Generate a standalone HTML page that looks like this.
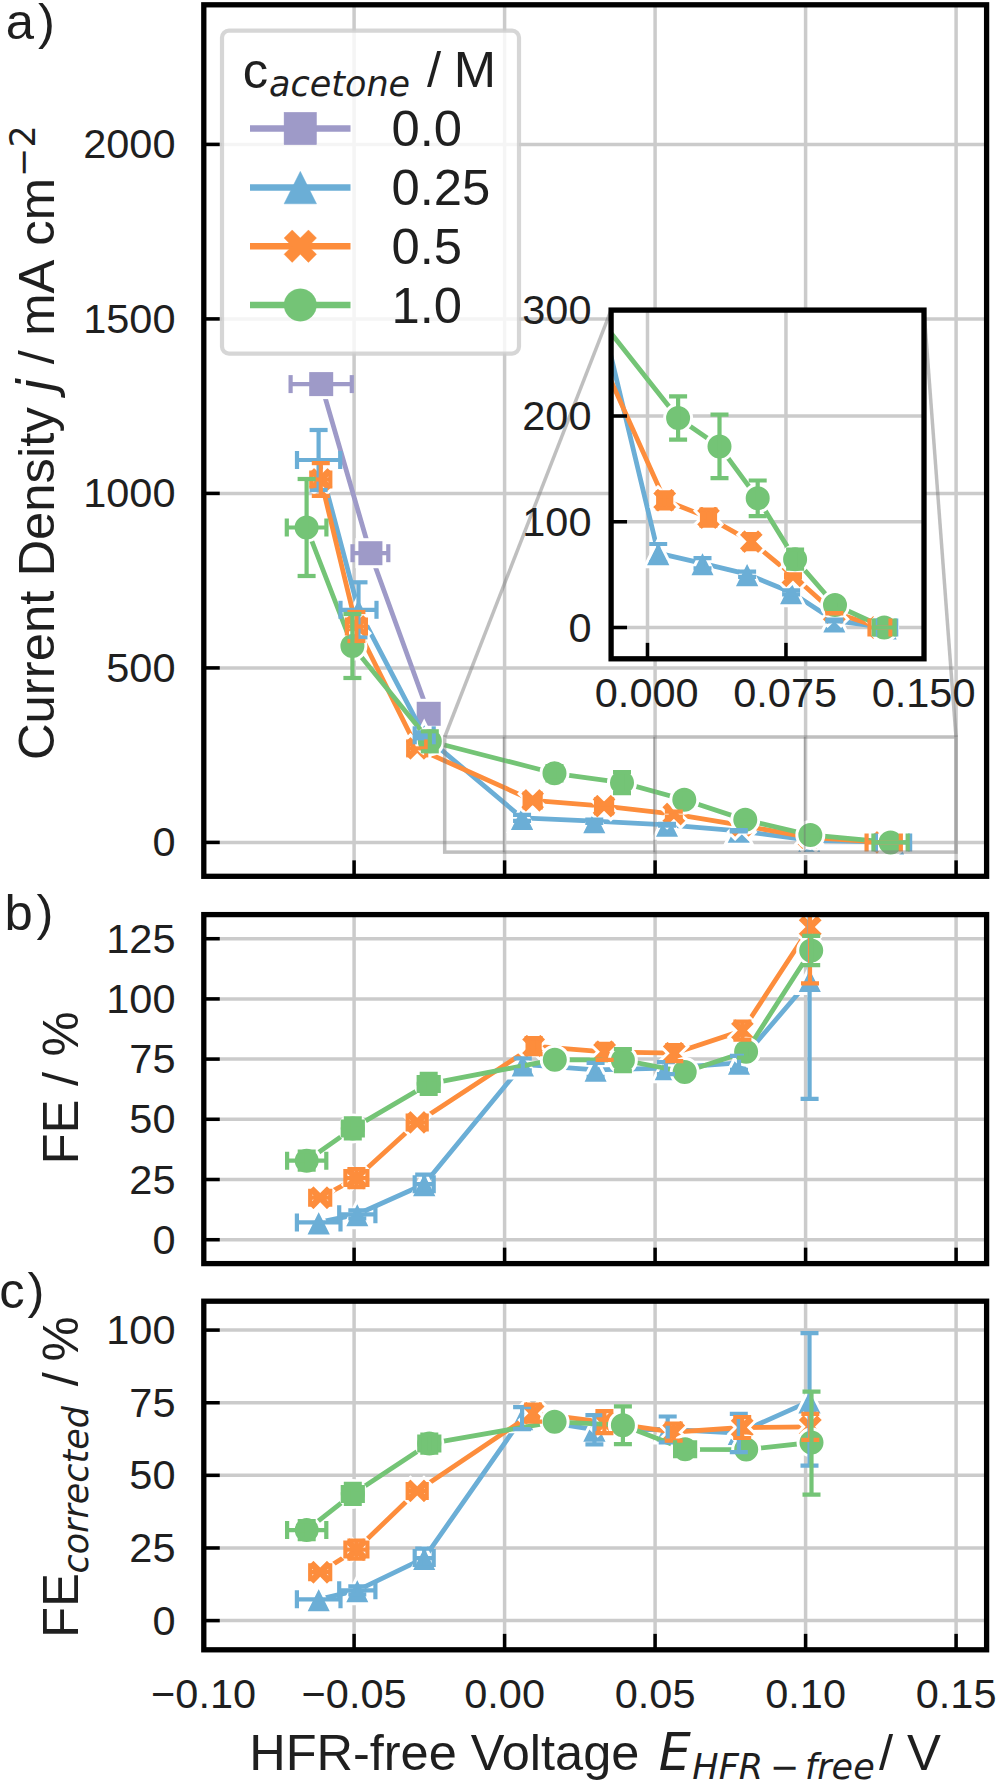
<!DOCTYPE html>
<html lang="en"><head><meta charset="utf-8"><title>Figure</title>
<style>
html,body{margin:0;padding:0;background:#fff}
body{width:996px;height:1783px;overflow:hidden}
svg{display:block}
.ls{font-family:"Liberation Sans",Arial,Helvetica,sans-serif;fill:#1f1f1f}
.dj{font-family:"DejaVu Sans","Liberation Sans",sans-serif}
</style></head><body>
<svg width="996" height="1783" viewBox="0 0 996 1783">
<defs>
<clipPath id="ca"><rect x="203.8" y="4.8" width="782.8" height="871.5"/></clipPath>
<clipPath id="cb"><rect x="203.8" y="914.6" width="782.8" height="349"/></clipPath>
<clipPath id="cc"><rect x="203.8" y="1301.2" width="782.8" height="348.6"/></clipPath>
<clipPath id="ci"><rect x="611.1" y="310.1" width="312.9" height="348.7"/></clipPath>
</defs>
<rect width="996" height="1783" fill="#fff"/>
<line x1="354.1" y1="4.8" x2="354.1" y2="876.3" stroke="#cbcbcb" stroke-width="3.5" />
<line x1="504.6" y1="4.8" x2="504.6" y2="876.3" stroke="#cbcbcb" stroke-width="3.5" />
<line x1="655.1" y1="4.8" x2="655.1" y2="876.3" stroke="#cbcbcb" stroke-width="3.5" />
<line x1="805.6" y1="4.8" x2="805.6" y2="876.3" stroke="#cbcbcb" stroke-width="3.5" />
<line x1="956.1" y1="4.8" x2="956.1" y2="876.3" stroke="#cbcbcb" stroke-width="3.5" />
<line x1="203.8" y1="842.4" x2="986.6" y2="842.4" stroke="#cbcbcb" stroke-width="3.5" />
<line x1="203.8" y1="667.9" x2="986.6" y2="667.9" stroke="#cbcbcb" stroke-width="3.5" />
<line x1="203.8" y1="493.4" x2="986.6" y2="493.4" stroke="#cbcbcb" stroke-width="3.5" />
<line x1="203.8" y1="318.9" x2="986.6" y2="318.9" stroke="#cbcbcb" stroke-width="3.5" />
<line x1="203.8" y1="144.4" x2="986.6" y2="144.4" stroke="#cbcbcb" stroke-width="3.5" />
<g clip-path="url(#ca)">
<polyline points="321.2,384.1 370.4,553.2 428.7,713.8" fill="none" stroke="#9e9ac8" stroke-width="4.8" stroke-linejoin="round" />
<rect x="307.7" y="370.6" width="27" height="27" fill="#9e9ac8" stroke="#fff" stroke-width="3" stroke-linejoin="miter"/>
<rect x="356.9" y="539.7" width="27" height="27" fill="#9e9ac8" stroke="#fff" stroke-width="3" stroke-linejoin="miter"/>
<rect x="415.2" y="700.3" width="27" height="27" fill="#9e9ac8" stroke="#fff" stroke-width="3" stroke-linejoin="miter"/>
<polyline points="318.6,460 358.5,609.8 424.2,735.3 522.05,817.88 594.28,821.21 667,824.81 738.75,830.78 809.19,840.09 893,842.4" fill="none" stroke="#6baed6" stroke-width="4.8" stroke-linejoin="round" />
<path d="M358.5 596.3L372 623.3L345 623.3Z" fill="#6baed6" stroke="#fff" stroke-width="3" stroke-linejoin="miter"/>
<path d="M424.2 721.8L437.7 748.8L410.7 748.8Z" fill="#6baed6" stroke="#fff" stroke-width="3" stroke-linejoin="miter"/>
<path d="M522.05 804.38L535.55 831.38L508.55 831.38Z" fill="#6baed6" stroke="#fff" stroke-width="3" stroke-linejoin="miter"/>
<path d="M594.28 807.71L607.78 834.71L580.78 834.71Z" fill="#6baed6" stroke="#fff" stroke-width="3" stroke-linejoin="miter"/>
<path d="M667 811.31L680.5 838.31L653.5 838.31Z" fill="#6baed6" stroke="#fff" stroke-width="3" stroke-linejoin="miter"/>
<path d="M738.75 817.28L752.25 844.28L725.25 844.28Z" fill="#6baed6" stroke="#fff" stroke-width="3" stroke-linejoin="miter"/>
<path d="M809.19 826.59L822.69 853.59L795.69 853.59Z" fill="#6baed6" stroke="#fff" stroke-width="3" stroke-linejoin="miter"/>
<path d="M893 828.9L906.5 855.9L879.5 855.9Z" fill="#6baed6" stroke="#fff" stroke-width="3" stroke-linejoin="miter"/>
<polyline points="320.8,479.5 356.4,626.5 417.2,748.4 532.65,800.42 604.06,806.13 673.85,814.05 741.85,825.34 809.19,837.45 883.7,842.4" fill="none" stroke="#fd8d3c" stroke-width="4.8" stroke-linejoin="round" />
<path d="M314.05 466L320.8 472.75L327.55 466L334.3 472.75L327.55 479.5L334.3 486.25L327.55 493L320.8 486.25L314.05 493L307.3 486.25L314.05 479.5L307.3 472.75Z" fill="#fd8d3c" stroke="#fff" stroke-width="3" stroke-linejoin="miter"/>
<path d="M349.65 613L356.4 619.75L363.15 613L369.9 619.75L363.15 626.5L369.9 633.25L363.15 640L356.4 633.25L349.65 640L342.9 633.25L349.65 626.5L342.9 619.75Z" fill="#fd8d3c" stroke="#fff" stroke-width="3" stroke-linejoin="miter"/>
<path d="M410.45 734.9L417.2 741.65L423.95 734.9L430.7 741.65L423.95 748.4L430.7 755.15L423.95 761.9L417.2 755.15L410.45 761.9L403.7 755.15L410.45 748.4L403.7 741.65Z" fill="#fd8d3c" stroke="#fff" stroke-width="3" stroke-linejoin="miter"/>
<path d="M525.9 786.92L532.65 793.67L539.4 786.92L546.15 793.67L539.4 800.42L546.15 807.17L539.4 813.92L532.65 807.17L525.9 813.92L519.15 807.17L525.9 800.42L519.15 793.67Z" fill="#fd8d3c" stroke="#fff" stroke-width="3" stroke-linejoin="miter"/>
<path d="M597.31 792.63L604.06 799.38L610.81 792.63L617.56 799.38L610.81 806.13L617.56 812.88L610.81 819.63L604.06 812.88L597.31 819.63L590.56 812.88L597.31 806.13L590.56 799.38Z" fill="#fd8d3c" stroke="#fff" stroke-width="3" stroke-linejoin="miter"/>
<path d="M667.1 800.55L673.85 807.3L680.6 800.55L687.35 807.3L680.6 814.05L687.35 820.8L680.6 827.55L673.85 820.8L667.1 827.55L660.35 820.8L667.1 814.05L660.35 807.3Z" fill="#fd8d3c" stroke="#fff" stroke-width="3" stroke-linejoin="miter"/>
<path d="M735.1 811.84L741.85 818.59L748.6 811.84L755.35 818.59L748.6 825.34L755.35 832.09L748.6 838.84L741.85 832.09L735.1 838.84L728.35 832.09L735.1 825.34L728.35 818.59Z" fill="#fd8d3c" stroke="#fff" stroke-width="3" stroke-linejoin="miter"/>
<path d="M802.44 823.95L809.19 830.7L815.94 823.95L822.69 830.7L815.94 837.45L822.69 844.2L815.94 850.95L809.19 844.2L802.44 850.95L795.69 844.2L802.44 837.45L795.69 830.7Z" fill="#fd8d3c" stroke="#fff" stroke-width="3" stroke-linejoin="miter"/>
<path d="M876.95 828.9L883.7 835.65L890.45 828.9L897.2 835.65L890.45 842.4L897.2 849.15L890.45 855.9L883.7 849.15L876.95 855.9L870.2 849.15L876.95 842.4L870.2 835.65Z" fill="#fd8d3c" stroke="#fff" stroke-width="3" stroke-linejoin="miter"/>
<polyline points="306.6,527.5 352.4,646 429.8,741.3 554.49,773.26 622,782.63 684.29,799.76 745.27,819.86 810.33,834.97 890.55,842.4" fill="none" stroke="#74c476" stroke-width="4.8" stroke-linejoin="round" />
<circle cx="306.6" cy="527.5" r="13.5" fill="#74c476" stroke="#fff" stroke-width="3" stroke-linejoin="miter"/>
<circle cx="352.4" cy="646" r="13.5" fill="#74c476" stroke="#fff" stroke-width="3" stroke-linejoin="miter"/>
<circle cx="429.8" cy="741.3" r="13.5" fill="#74c476" stroke="#fff" stroke-width="3" stroke-linejoin="miter"/>
<circle cx="554.49" cy="773.26" r="13.5" fill="#74c476" stroke="#fff" stroke-width="3" stroke-linejoin="miter"/>
<circle cx="622" cy="782.63" r="13.5" fill="#74c476" stroke="#fff" stroke-width="3" stroke-linejoin="miter"/>
<circle cx="684.29" cy="799.76" r="13.5" fill="#74c476" stroke="#fff" stroke-width="3" stroke-linejoin="miter"/>
<circle cx="745.27" cy="819.86" r="13.5" fill="#74c476" stroke="#fff" stroke-width="3" stroke-linejoin="miter"/>
<circle cx="810.33" cy="834.97" r="13.5" fill="#74c476" stroke="#fff" stroke-width="3" stroke-linejoin="miter"/>
<circle cx="890.55" cy="842.4" r="13.5" fill="#74c476" stroke="#fff" stroke-width="3" stroke-linejoin="miter"/>
<line x1="290.6" y1="384.1" x2="351.8" y2="384.1" stroke="#9e9ac8" stroke-width="4.2" />
<line x1="290.6" y1="375.1" x2="290.6" y2="393.1" stroke="#9e9ac8" stroke-width="4.2" />
<line x1="351.8" y1="375.1" x2="351.8" y2="393.1" stroke="#9e9ac8" stroke-width="4.2" />
<line x1="352.5" y1="553.2" x2="388.3" y2="553.2" stroke="#9e9ac8" stroke-width="4.2" />
<line x1="352.5" y1="544.2" x2="352.5" y2="562.2" stroke="#9e9ac8" stroke-width="4.2" />
<line x1="388.3" y1="544.2" x2="388.3" y2="562.2" stroke="#9e9ac8" stroke-width="4.2" />
<line x1="297" y1="460" x2="340.2" y2="460" stroke="#6baed6" stroke-width="4.2" />
<line x1="297" y1="451" x2="297" y2="469" stroke="#6baed6" stroke-width="4.2" />
<line x1="340.2" y1="451" x2="340.2" y2="469" stroke="#6baed6" stroke-width="4.2" />
<line x1="318.6" y1="430" x2="318.6" y2="490" stroke="#6baed6" stroke-width="4.2" />
<line x1="309.6" y1="430" x2="327.6" y2="430" stroke="#6baed6" stroke-width="4.2" />
<line x1="309.6" y1="490" x2="327.6" y2="490" stroke="#6baed6" stroke-width="4.2" />
<line x1="340.5" y1="609.8" x2="376.5" y2="609.8" stroke="#6baed6" stroke-width="4.2" />
<line x1="340.5" y1="600.8" x2="340.5" y2="618.8" stroke="#6baed6" stroke-width="4.2" />
<line x1="376.5" y1="600.8" x2="376.5" y2="618.8" stroke="#6baed6" stroke-width="4.2" />
<line x1="358.5" y1="582.3" x2="358.5" y2="637.3" stroke="#6baed6" stroke-width="4.2" />
<line x1="349.5" y1="582.3" x2="367.5" y2="582.3" stroke="#6baed6" stroke-width="4.2" />
<line x1="349.5" y1="637.3" x2="367.5" y2="637.3" stroke="#6baed6" stroke-width="4.2" />
<line x1="414.7" y1="735.3" x2="433.7" y2="735.3" stroke="#6baed6" stroke-width="4.2" />
<line x1="414.7" y1="726.3" x2="414.7" y2="744.3" stroke="#6baed6" stroke-width="4.2" />
<line x1="433.7" y1="726.3" x2="433.7" y2="744.3" stroke="#6baed6" stroke-width="4.2" />
<line x1="424.2" y1="732.3" x2="424.2" y2="738.3" stroke="#6baed6" stroke-width="4.2" />
<line x1="415.2" y1="732.3" x2="433.2" y2="732.3" stroke="#6baed6" stroke-width="4.2" />
<line x1="415.2" y1="738.3" x2="433.2" y2="738.3" stroke="#6baed6" stroke-width="4.2" />
<line x1="522.05" y1="814.84" x2="522.05" y2="820.92" stroke="#6baed6" stroke-width="4.2" />
<line x1="513.05" y1="814.84" x2="531.05" y2="814.84" stroke="#6baed6" stroke-width="4.2" />
<line x1="513.05" y1="820.92" x2="531.05" y2="820.92" stroke="#6baed6" stroke-width="4.2" />
<line x1="594.28" y1="819.53" x2="594.28" y2="822.9" stroke="#6baed6" stroke-width="4.2" />
<line x1="585.28" y1="819.53" x2="603.28" y2="819.53" stroke="#6baed6" stroke-width="4.2" />
<line x1="585.28" y1="822.9" x2="603.28" y2="822.9" stroke="#6baed6" stroke-width="4.2" />
<line x1="667" y1="823.95" x2="667" y2="825.67" stroke="#6baed6" stroke-width="4.2" />
<line x1="658" y1="823.95" x2="676" y2="823.95" stroke="#6baed6" stroke-width="4.2" />
<line x1="658" y1="825.67" x2="676" y2="825.67" stroke="#6baed6" stroke-width="4.2" />
<line x1="738.75" y1="830.12" x2="738.75" y2="831.44" stroke="#6baed6" stroke-width="4.2" />
<line x1="729.75" y1="830.12" x2="747.75" y2="830.12" stroke="#6baed6" stroke-width="4.2" />
<line x1="729.75" y1="831.44" x2="747.75" y2="831.44" stroke="#6baed6" stroke-width="4.2" />
<line x1="875.88" y1="842.4" x2="910.12" y2="842.4" stroke="#6baed6" stroke-width="4.2" />
<line x1="875.88" y1="833.4" x2="875.88" y2="851.4" stroke="#6baed6" stroke-width="4.2" />
<line x1="910.12" y1="833.4" x2="910.12" y2="851.4" stroke="#6baed6" stroke-width="4.2" />
<line x1="311.3" y1="479.5" x2="330.3" y2="479.5" stroke="#fd8d3c" stroke-width="4.2" />
<line x1="311.3" y1="470.5" x2="311.3" y2="488.5" stroke="#fd8d3c" stroke-width="4.2" />
<line x1="330.3" y1="470.5" x2="330.3" y2="488.5" stroke="#fd8d3c" stroke-width="4.2" />
<line x1="320.8" y1="463.1" x2="320.8" y2="495.9" stroke="#fd8d3c" stroke-width="4.2" />
<line x1="311.8" y1="463.1" x2="329.8" y2="463.1" stroke="#fd8d3c" stroke-width="4.2" />
<line x1="311.8" y1="495.9" x2="329.8" y2="495.9" stroke="#fd8d3c" stroke-width="4.2" />
<line x1="346.9" y1="626.5" x2="365.9" y2="626.5" stroke="#fd8d3c" stroke-width="4.2" />
<line x1="346.9" y1="617.5" x2="346.9" y2="635.5" stroke="#fd8d3c" stroke-width="4.2" />
<line x1="365.9" y1="617.5" x2="365.9" y2="635.5" stroke="#fd8d3c" stroke-width="4.2" />
<line x1="356.4" y1="612" x2="356.4" y2="641" stroke="#fd8d3c" stroke-width="4.2" />
<line x1="347.4" y1="612" x2="365.4" y2="612" stroke="#fd8d3c" stroke-width="4.2" />
<line x1="347.4" y1="641" x2="365.4" y2="641" stroke="#fd8d3c" stroke-width="4.2" />
<line x1="408.2" y1="748.4" x2="426.2" y2="748.4" stroke="#fd8d3c" stroke-width="4.2" />
<line x1="408.2" y1="739.4" x2="408.2" y2="757.4" stroke="#fd8d3c" stroke-width="4.2" />
<line x1="426.2" y1="739.4" x2="426.2" y2="757.4" stroke="#fd8d3c" stroke-width="4.2" />
<line x1="524.65" y1="800.42" x2="540.65" y2="800.42" stroke="#fd8d3c" stroke-width="4.2" />
<line x1="524.65" y1="791.42" x2="524.65" y2="809.42" stroke="#fd8d3c" stroke-width="4.2" />
<line x1="540.65" y1="791.42" x2="540.65" y2="809.42" stroke="#fd8d3c" stroke-width="4.2" />
<line x1="532.65" y1="797.78" x2="532.65" y2="803.06" stroke="#fd8d3c" stroke-width="4.2" />
<line x1="523.65" y1="797.78" x2="541.65" y2="797.78" stroke="#fd8d3c" stroke-width="4.2" />
<line x1="523.65" y1="803.06" x2="541.65" y2="803.06" stroke="#fd8d3c" stroke-width="4.2" />
<line x1="596.06" y1="806.13" x2="612.06" y2="806.13" stroke="#fd8d3c" stroke-width="4.2" />
<line x1="596.06" y1="797.13" x2="596.06" y2="815.13" stroke="#fd8d3c" stroke-width="4.2" />
<line x1="612.06" y1="797.13" x2="612.06" y2="815.13" stroke="#fd8d3c" stroke-width="4.2" />
<line x1="604.06" y1="803.49" x2="604.06" y2="808.77" stroke="#fd8d3c" stroke-width="4.2" />
<line x1="595.06" y1="803.49" x2="613.06" y2="803.49" stroke="#fd8d3c" stroke-width="4.2" />
<line x1="595.06" y1="808.77" x2="613.06" y2="808.77" stroke="#fd8d3c" stroke-width="4.2" />
<line x1="673.85" y1="811.58" x2="673.85" y2="816.53" stroke="#fd8d3c" stroke-width="4.2" />
<line x1="664.85" y1="811.58" x2="682.85" y2="811.58" stroke="#fd8d3c" stroke-width="4.2" />
<line x1="664.85" y1="816.53" x2="682.85" y2="816.53" stroke="#fd8d3c" stroke-width="4.2" />
<line x1="866.58" y1="842.4" x2="900.82" y2="842.4" stroke="#fd8d3c" stroke-width="4.2" />
<line x1="866.58" y1="833.4" x2="866.58" y2="851.4" stroke="#fd8d3c" stroke-width="4.2" />
<line x1="900.82" y1="833.4" x2="900.82" y2="851.4" stroke="#fd8d3c" stroke-width="4.2" />
<line x1="286.8" y1="527.5" x2="326.4" y2="527.5" stroke="#74c476" stroke-width="4.2" />
<line x1="286.8" y1="518.5" x2="286.8" y2="536.5" stroke="#74c476" stroke-width="4.2" />
<line x1="326.4" y1="518.5" x2="326.4" y2="536.5" stroke="#74c476" stroke-width="4.2" />
<line x1="306.6" y1="479" x2="306.6" y2="576" stroke="#74c476" stroke-width="4.2" />
<line x1="297.6" y1="479" x2="315.6" y2="479" stroke="#74c476" stroke-width="4.2" />
<line x1="297.6" y1="576" x2="315.6" y2="576" stroke="#74c476" stroke-width="4.2" />
<line x1="352.4" y1="614" x2="352.4" y2="678" stroke="#74c476" stroke-width="4.2" />
<line x1="343.4" y1="614" x2="361.4" y2="614" stroke="#74c476" stroke-width="4.2" />
<line x1="343.4" y1="678" x2="361.4" y2="678" stroke="#74c476" stroke-width="4.2" />
<line x1="429.8" y1="731.3" x2="429.8" y2="751.3" stroke="#74c476" stroke-width="4.2" />
<line x1="420.8" y1="731.3" x2="438.8" y2="731.3" stroke="#74c476" stroke-width="4.2" />
<line x1="420.8" y1="751.3" x2="438.8" y2="751.3" stroke="#74c476" stroke-width="4.2" />
<line x1="554.49" y1="766.1" x2="554.49" y2="780.42" stroke="#74c476" stroke-width="4.2" />
<line x1="545.49" y1="766.1" x2="563.49" y2="766.1" stroke="#74c476" stroke-width="4.2" />
<line x1="545.49" y1="780.42" x2="563.49" y2="780.42" stroke="#74c476" stroke-width="4.2" />
<line x1="622" y1="772.14" x2="622" y2="793.13" stroke="#74c476" stroke-width="4.2" />
<line x1="613" y1="772.14" x2="631" y2="772.14" stroke="#74c476" stroke-width="4.2" />
<line x1="613" y1="793.13" x2="631" y2="793.13" stroke="#74c476" stroke-width="4.2" />
<line x1="684.29" y1="793.89" x2="684.29" y2="805.64" stroke="#74c476" stroke-width="4.2" />
<line x1="675.29" y1="793.89" x2="693.29" y2="793.89" stroke="#74c476" stroke-width="4.2" />
<line x1="675.29" y1="805.64" x2="693.29" y2="805.64" stroke="#74c476" stroke-width="4.2" />
<line x1="745.27" y1="816.72" x2="745.27" y2="822.99" stroke="#74c476" stroke-width="4.2" />
<line x1="736.27" y1="816.72" x2="754.27" y2="816.72" stroke="#74c476" stroke-width="4.2" />
<line x1="736.27" y1="822.99" x2="754.27" y2="822.99" stroke="#74c476" stroke-width="4.2" />
<line x1="810.33" y1="833.65" x2="810.33" y2="836.29" stroke="#74c476" stroke-width="4.2" />
<line x1="801.33" y1="833.65" x2="819.33" y2="833.65" stroke="#74c476" stroke-width="4.2" />
<line x1="801.33" y1="836.29" x2="819.33" y2="836.29" stroke="#74c476" stroke-width="4.2" />
<line x1="873.43" y1="842.4" x2="907.67" y2="842.4" stroke="#74c476" stroke-width="4.2" />
<line x1="873.43" y1="833.4" x2="873.43" y2="851.4" stroke="#74c476" stroke-width="4.2" />
<line x1="907.67" y1="833.4" x2="907.67" y2="851.4" stroke="#74c476" stroke-width="4.2" />
</g>
<rect x="444.7" y="737" width="511.3" height="115.1" fill="none" stroke="#808080" stroke-opacity="0.5" stroke-width="3.5"/>
<line x1="503.7" y1="737" x2="503.7" y2="852.1" stroke="#707070" stroke-width="1.8" stroke-opacity="0.45"/>
<line x1="654.2" y1="737" x2="654.2" y2="852.1" stroke="#707070" stroke-width="1.8" stroke-opacity="0.45"/>
<line x1="804.7" y1="737" x2="804.7" y2="852.1" stroke="#707070" stroke-width="1.8" stroke-opacity="0.45"/>
<line x1="444.7" y1="737" x2="611.1" y2="310.1" stroke="#808080" stroke-width="3.5" stroke-opacity="0.5"/>
<line x1="956" y1="737" x2="924" y2="310.1" stroke="#808080" stroke-width="3.5" stroke-opacity="0.5"/>
<line x1="354.1" y1="876.3" x2="354.1" y2="860.35" stroke="#000" stroke-width="3.5" />
<line x1="504.6" y1="876.3" x2="504.6" y2="860.35" stroke="#000" stroke-width="3.5" />
<line x1="655.1" y1="876.3" x2="655.1" y2="860.35" stroke="#000" stroke-width="3.5" />
<line x1="805.6" y1="876.3" x2="805.6" y2="860.35" stroke="#000" stroke-width="3.5" />
<line x1="956.1" y1="876.3" x2="956.1" y2="860.35" stroke="#000" stroke-width="3.5" />
<line x1="203.8" y1="842.4" x2="219.75" y2="842.4" stroke="#000" stroke-width="3.5" />
<line x1="203.8" y1="667.9" x2="219.75" y2="667.9" stroke="#000" stroke-width="3.5" />
<line x1="203.8" y1="493.4" x2="219.75" y2="493.4" stroke="#000" stroke-width="3.5" />
<line x1="203.8" y1="318.9" x2="219.75" y2="318.9" stroke="#000" stroke-width="3.5" />
<line x1="203.8" y1="144.4" x2="219.75" y2="144.4" stroke="#000" stroke-width="3.5" />
<rect x="203.8" y="4.8" width="782.8" height="871.5" fill="none" stroke="#000" stroke-width="5.3"/>
<rect x="222" y="30.6" width="297" height="323" rx="7" ry="7" fill="#fff" fill-opacity="0.8" stroke="#ccc" stroke-opacity="0.8" stroke-width="4.2"/>
<line x1="250" y1="128.5" x2="350.5" y2="128.5" stroke="#9e9ac8" stroke-width="6.5" />
<rect x="284.05" y="112.25" width="32.5" height="32.5" fill="#9e9ac8" stroke="#9e9ac8" stroke-width="0.4" stroke-linejoin="miter"/>
<text x="391.5" y="146.1" font-size="50.8" text-anchor="start" class="ls" >0.0</text>
<line x1="250" y1="187.6" x2="350.5" y2="187.6" stroke="#6baed6" stroke-width="6.5" />
<path d="M300.3 171.35L316.55 203.85L284.05 203.85Z" fill="#6baed6" stroke="#6baed6" stroke-width="0.4" stroke-linejoin="miter"/>
<text x="391.5" y="205.2" font-size="50.8" text-anchor="start" class="ls" >0.25</text>
<line x1="250" y1="246.2" x2="350.5" y2="246.2" stroke="#fd8d3c" stroke-width="6.5" />
<path d="M292.18 229.95L300.3 238.07L308.43 229.95L316.55 238.07L308.43 246.2L316.55 254.32L308.43 262.45L300.3 254.32L292.18 262.45L284.05 254.32L292.18 246.2L284.05 238.07Z" fill="#fd8d3c" stroke="#fd8d3c" stroke-width="0.4" stroke-linejoin="miter"/>
<text x="391.5" y="263.8" font-size="50.8" text-anchor="start" class="ls" >0.5</text>
<line x1="250" y1="305" x2="350.5" y2="305" stroke="#74c476" stroke-width="6.5" />
<circle cx="300.3" cy="305" r="16.25" fill="#74c476" stroke="#74c476" stroke-width="0.4" stroke-linejoin="miter"/>
<text x="391.5" y="322.6" font-size="50.8" text-anchor="start" class="ls" >1.0</text>
<rect x="611.1" y="310.1" width="312.9" height="348.7" fill="#fff"/>
<line x1="647.5" y1="310.1" x2="647.5" y2="658.8" stroke="#cbcbcb" stroke-width="3.5" />
<line x1="785.95" y1="310.1" x2="785.95" y2="658.8" stroke="#cbcbcb" stroke-width="3.5" />
<line x1="611.1" y1="627.5" x2="924" y2="627.5" stroke="#cbcbcb" stroke-width="3.5" />
<line x1="611.1" y1="521.75" x2="924" y2="521.75" stroke="#cbcbcb" stroke-width="3.5" />
<line x1="611.1" y1="416" x2="924" y2="416" stroke="#cbcbcb" stroke-width="3.5" />
<g clip-path="url(#ci)">
<polyline points="598.19,302.98 658.2,553.2 702.5,563.3 747.1,574.2 791.1,592.3 834.3,620.5 885.7,627.5" fill="none" stroke="#6baed6" stroke-width="4.8" stroke-linejoin="round" />
<path d="M658.2 539.7L671.7 566.7L644.7 566.7Z" fill="#6baed6" stroke="#fff" stroke-width="3" stroke-linejoin="miter"/>
<path d="M702.5 549.8L716 576.8L689 576.8Z" fill="#6baed6" stroke="#fff" stroke-width="3" stroke-linejoin="miter"/>
<path d="M747.1 560.7L760.6 587.7L733.6 587.7Z" fill="#6baed6" stroke="#fff" stroke-width="3" stroke-linejoin="miter"/>
<path d="M791.1 578.8L804.6 605.8L777.6 605.8Z" fill="#6baed6" stroke="#fff" stroke-width="3" stroke-linejoin="miter"/>
<path d="M834.3 607L847.8 634L820.8 634Z" fill="#6baed6" stroke="#fff" stroke-width="3" stroke-linejoin="miter"/>
<path d="M885.7 614L899.2 641L872.2 641Z" fill="#6baed6" stroke="#fff" stroke-width="3" stroke-linejoin="miter"/>
<polyline points="593.9,342.67 664.7,500.3 708.5,517.6 751.3,541.6 793,575.8 834.3,612.5 880,627.5" fill="none" stroke="#fd8d3c" stroke-width="4.8" stroke-linejoin="round" />
<path d="M657.95 486.8L664.7 493.55L671.45 486.8L678.2 493.55L671.45 500.3L678.2 507.05L671.45 513.8L664.7 507.05L657.95 513.8L651.2 507.05L657.95 500.3L651.2 493.55Z" fill="#fd8d3c" stroke="#fff" stroke-width="3" stroke-linejoin="miter"/>
<path d="M701.75 504.1L708.5 510.85L715.25 504.1L722 510.85L715.25 517.6L722 524.35L715.25 531.1L708.5 524.35L701.75 531.1L695 524.35L701.75 517.6L695 510.85Z" fill="#fd8d3c" stroke="#fff" stroke-width="3" stroke-linejoin="miter"/>
<path d="M744.55 528.1L751.3 534.85L758.05 528.1L764.8 534.85L758.05 541.6L764.8 548.35L758.05 555.1L751.3 548.35L744.55 555.1L737.8 548.35L744.55 541.6L737.8 534.85Z" fill="#fd8d3c" stroke="#fff" stroke-width="3" stroke-linejoin="miter"/>
<path d="M786.25 562.3L793 569.05L799.75 562.3L806.5 569.05L799.75 575.8L806.5 582.55L799.75 589.3L793 582.55L786.25 589.3L779.5 582.55L786.25 575.8L779.5 569.05Z" fill="#fd8d3c" stroke="#fff" stroke-width="3" stroke-linejoin="miter"/>
<path d="M827.55 599L834.3 605.75L841.05 599L847.8 605.75L841.05 612.5L847.8 619.25L841.05 626L834.3 619.25L827.55 626L820.8 619.25L827.55 612.5L820.8 605.75Z" fill="#fd8d3c" stroke="#fff" stroke-width="3" stroke-linejoin="miter"/>
<path d="M873.25 614L880 620.75L886.75 614L893.5 620.75L886.75 627.5L893.5 634.25L886.75 641L880 634.25L873.25 641L866.5 634.25L873.25 627.5L866.5 620.75Z" fill="#fd8d3c" stroke="#fff" stroke-width="3" stroke-linejoin="miter"/>
<polyline points="601.63,321.16 678.1,418 719.5,446.4 757.7,498.3 795.1,559.2 835,605 884.2,627.5" fill="none" stroke="#74c476" stroke-width="4.8" stroke-linejoin="round" />
<circle cx="678.1" cy="418" r="13.5" fill="#74c476" stroke="#fff" stroke-width="3" stroke-linejoin="miter"/>
<circle cx="719.5" cy="446.4" r="13.5" fill="#74c476" stroke="#fff" stroke-width="3" stroke-linejoin="miter"/>
<circle cx="757.7" cy="498.3" r="13.5" fill="#74c476" stroke="#fff" stroke-width="3" stroke-linejoin="miter"/>
<circle cx="795.1" cy="559.2" r="13.5" fill="#74c476" stroke="#fff" stroke-width="3" stroke-linejoin="miter"/>
<circle cx="835" cy="605" r="13.5" fill="#74c476" stroke="#fff" stroke-width="3" stroke-linejoin="miter"/>
<circle cx="884.2" cy="627.5" r="13.5" fill="#74c476" stroke="#fff" stroke-width="3" stroke-linejoin="miter"/>
<line x1="658.2" y1="544" x2="658.2" y2="562.4" stroke="#6baed6" stroke-width="4.2" />
<line x1="649.2" y1="544" x2="667.2" y2="544" stroke="#6baed6" stroke-width="4.2" />
<line x1="649.2" y1="562.4" x2="667.2" y2="562.4" stroke="#6baed6" stroke-width="4.2" />
<line x1="702.5" y1="558.2" x2="702.5" y2="568.4" stroke="#6baed6" stroke-width="4.2" />
<line x1="693.5" y1="558.2" x2="711.5" y2="558.2" stroke="#6baed6" stroke-width="4.2" />
<line x1="693.5" y1="568.4" x2="711.5" y2="568.4" stroke="#6baed6" stroke-width="4.2" />
<line x1="747.1" y1="571.6" x2="747.1" y2="576.8" stroke="#6baed6" stroke-width="4.2" />
<line x1="738.1" y1="571.6" x2="756.1" y2="571.6" stroke="#6baed6" stroke-width="4.2" />
<line x1="738.1" y1="576.8" x2="756.1" y2="576.8" stroke="#6baed6" stroke-width="4.2" />
<line x1="791.1" y1="590.3" x2="791.1" y2="594.3" stroke="#6baed6" stroke-width="4.2" />
<line x1="782.1" y1="590.3" x2="800.1" y2="590.3" stroke="#6baed6" stroke-width="4.2" />
<line x1="782.1" y1="594.3" x2="800.1" y2="594.3" stroke="#6baed6" stroke-width="4.2" />
<line x1="834.3" y1="619.5" x2="834.3" y2="621.5" stroke="#6baed6" stroke-width="4.2" />
<line x1="825.3" y1="619.5" x2="843.3" y2="619.5" stroke="#6baed6" stroke-width="4.2" />
<line x1="825.3" y1="621.5" x2="843.3" y2="621.5" stroke="#6baed6" stroke-width="4.2" />
<line x1="875.2" y1="627.5" x2="896.2" y2="627.5" stroke="#6baed6" stroke-width="4.2" />
<line x1="875.2" y1="618.5" x2="875.2" y2="636.5" stroke="#6baed6" stroke-width="4.2" />
<line x1="896.2" y1="618.5" x2="896.2" y2="636.5" stroke="#6baed6" stroke-width="4.2" />
<line x1="658.2" y1="500.3" x2="671.2" y2="500.3" stroke="#fd8d3c" stroke-width="4.2" />
<line x1="658.2" y1="491.3" x2="658.2" y2="509.3" stroke="#fd8d3c" stroke-width="4.2" />
<line x1="671.2" y1="491.3" x2="671.2" y2="509.3" stroke="#fd8d3c" stroke-width="4.2" />
<line x1="664.7" y1="492.3" x2="664.7" y2="508.3" stroke="#fd8d3c" stroke-width="4.2" />
<line x1="655.7" y1="492.3" x2="673.7" y2="492.3" stroke="#fd8d3c" stroke-width="4.2" />
<line x1="655.7" y1="508.3" x2="673.7" y2="508.3" stroke="#fd8d3c" stroke-width="4.2" />
<line x1="702" y1="517.6" x2="715" y2="517.6" stroke="#fd8d3c" stroke-width="4.2" />
<line x1="702" y1="508.6" x2="702" y2="526.6" stroke="#fd8d3c" stroke-width="4.2" />
<line x1="715" y1="508.6" x2="715" y2="526.6" stroke="#fd8d3c" stroke-width="4.2" />
<line x1="708.5" y1="509.6" x2="708.5" y2="525.6" stroke="#fd8d3c" stroke-width="4.2" />
<line x1="699.5" y1="509.6" x2="717.5" y2="509.6" stroke="#fd8d3c" stroke-width="4.2" />
<line x1="699.5" y1="525.6" x2="717.5" y2="525.6" stroke="#fd8d3c" stroke-width="4.2" />
<line x1="751.3" y1="534.1" x2="751.3" y2="549.1" stroke="#fd8d3c" stroke-width="4.2" />
<line x1="742.3" y1="534.1" x2="760.3" y2="534.1" stroke="#fd8d3c" stroke-width="4.2" />
<line x1="742.3" y1="549.1" x2="760.3" y2="549.1" stroke="#fd8d3c" stroke-width="4.2" />
<line x1="793" y1="574.3" x2="793" y2="577.3" stroke="#fd8d3c" stroke-width="4.2" />
<line x1="784" y1="574.3" x2="802" y2="574.3" stroke="#fd8d3c" stroke-width="4.2" />
<line x1="784" y1="577.3" x2="802" y2="577.3" stroke="#fd8d3c" stroke-width="4.2" />
<line x1="834.3" y1="611.5" x2="834.3" y2="613.5" stroke="#fd8d3c" stroke-width="4.2" />
<line x1="825.3" y1="611.5" x2="843.3" y2="611.5" stroke="#fd8d3c" stroke-width="4.2" />
<line x1="825.3" y1="613.5" x2="843.3" y2="613.5" stroke="#fd8d3c" stroke-width="4.2" />
<line x1="869.5" y1="627.5" x2="890.5" y2="627.5" stroke="#fd8d3c" stroke-width="4.2" />
<line x1="869.5" y1="618.5" x2="869.5" y2="636.5" stroke="#fd8d3c" stroke-width="4.2" />
<line x1="890.5" y1="618.5" x2="890.5" y2="636.5" stroke="#fd8d3c" stroke-width="4.2" />
<line x1="678.1" y1="396.3" x2="678.1" y2="439.7" stroke="#74c476" stroke-width="4.2" />
<line x1="669.1" y1="396.3" x2="687.1" y2="396.3" stroke="#74c476" stroke-width="4.2" />
<line x1="669.1" y1="439.7" x2="687.1" y2="439.7" stroke="#74c476" stroke-width="4.2" />
<line x1="719.5" y1="414.6" x2="719.5" y2="478.2" stroke="#74c476" stroke-width="4.2" />
<line x1="710.5" y1="414.6" x2="728.5" y2="414.6" stroke="#74c476" stroke-width="4.2" />
<line x1="710.5" y1="478.2" x2="728.5" y2="478.2" stroke="#74c476" stroke-width="4.2" />
<line x1="757.7" y1="480.5" x2="757.7" y2="516.1" stroke="#74c476" stroke-width="4.2" />
<line x1="748.7" y1="480.5" x2="766.7" y2="480.5" stroke="#74c476" stroke-width="4.2" />
<line x1="748.7" y1="516.1" x2="766.7" y2="516.1" stroke="#74c476" stroke-width="4.2" />
<line x1="795.1" y1="549.7" x2="795.1" y2="568.7" stroke="#74c476" stroke-width="4.2" />
<line x1="786.1" y1="549.7" x2="804.1" y2="549.7" stroke="#74c476" stroke-width="4.2" />
<line x1="786.1" y1="568.7" x2="804.1" y2="568.7" stroke="#74c476" stroke-width="4.2" />
<line x1="835" y1="601" x2="835" y2="609" stroke="#74c476" stroke-width="4.2" />
<line x1="826" y1="601" x2="844" y2="601" stroke="#74c476" stroke-width="4.2" />
<line x1="826" y1="609" x2="844" y2="609" stroke="#74c476" stroke-width="4.2" />
<line x1="873.7" y1="627.5" x2="894.7" y2="627.5" stroke="#74c476" stroke-width="4.2" />
<line x1="873.7" y1="618.5" x2="873.7" y2="636.5" stroke="#74c476" stroke-width="4.2" />
<line x1="894.7" y1="618.5" x2="894.7" y2="636.5" stroke="#74c476" stroke-width="4.2" />
</g>
<line x1="647.5" y1="658.8" x2="647.5" y2="642.85" stroke="#000" stroke-width="3.5" />
<line x1="785.95" y1="658.8" x2="785.95" y2="642.85" stroke="#000" stroke-width="3.5" />
<line x1="611.1" y1="627.5" x2="627.05" y2="627.5" stroke="#000" stroke-width="3.5" />
<line x1="611.1" y1="521.75" x2="627.05" y2="521.75" stroke="#000" stroke-width="3.5" />
<line x1="611.1" y1="416" x2="627.05" y2="416" stroke="#000" stroke-width="3.5" />
<rect x="611.1" y="310.1" width="312.9" height="348.7" fill="none" stroke="#000" stroke-width="5.3"/>
<text x="591.5" y="641.5" font-size="41.5" text-anchor="end" class="ls" >0</text>
<text x="591.5" y="535.75" font-size="41.5" text-anchor="end" class="ls" >100</text>
<text x="591.5" y="430" font-size="41.5" text-anchor="end" class="ls" >200</text>
<text x="591.5" y="324.25" font-size="41.5" text-anchor="end" class="ls" >300</text>
<text x="646.7" y="706.9" font-size="41.5" text-anchor="middle" class="ls" >0.000</text>
<text x="785.15" y="706.9" font-size="41.5" text-anchor="middle" class="ls" >0.075</text>
<text x="923.6" y="706.9" font-size="41.5" text-anchor="middle" class="ls" >0.150</text>
<text x="175.5" y="856.4" font-size="41.5" text-anchor="end" class="ls" >0</text>
<text x="175.5" y="681.9" font-size="41.5" text-anchor="end" class="ls" >500</text>
<text x="175.5" y="507.4" font-size="41.5" text-anchor="end" class="ls" >1000</text>
<text x="175.5" y="332.9" font-size="41.5" text-anchor="end" class="ls" >1500</text>
<text x="175.5" y="158.4" font-size="41.5" text-anchor="end" class="ls" >2000</text>
<line x1="354.1" y1="914.6" x2="354.1" y2="1263.6" stroke="#cbcbcb" stroke-width="3.5" />
<line x1="504.6" y1="914.6" x2="504.6" y2="1263.6" stroke="#cbcbcb" stroke-width="3.5" />
<line x1="655.1" y1="914.6" x2="655.1" y2="1263.6" stroke="#cbcbcb" stroke-width="3.5" />
<line x1="805.6" y1="914.6" x2="805.6" y2="1263.6" stroke="#cbcbcb" stroke-width="3.5" />
<line x1="956.1" y1="914.6" x2="956.1" y2="1263.6" stroke="#cbcbcb" stroke-width="3.5" />
<line x1="203.8" y1="1239.7" x2="986.6" y2="1239.7" stroke="#cbcbcb" stroke-width="3.5" />
<line x1="203.8" y1="1179.5" x2="986.6" y2="1179.5" stroke="#cbcbcb" stroke-width="3.5" />
<line x1="203.8" y1="1119.3" x2="986.6" y2="1119.3" stroke="#cbcbcb" stroke-width="3.5" />
<line x1="203.8" y1="1059.1" x2="986.6" y2="1059.1" stroke="#cbcbcb" stroke-width="3.5" />
<line x1="203.8" y1="998.9" x2="986.6" y2="998.9" stroke="#cbcbcb" stroke-width="3.5" />
<line x1="203.8" y1="938.7" x2="986.6" y2="938.7" stroke="#cbcbcb" stroke-width="3.5" />
<g clip-path="url(#cb)">
<polyline points="318.7,1222.4 357.3,1214.3 424.2,1184.2 522.8,1064.4 595.6,1069.8 665.9,1068.2 739,1062.8 809.8,980" fill="none" stroke="#6baed6" stroke-width="4.8" stroke-linejoin="round" />
<path d="M318.7 1208.9L332.2 1235.9L305.2 1235.9Z" fill="#6baed6" stroke="#fff" stroke-width="3" stroke-linejoin="miter"/>
<path d="M357.3 1200.8L370.8 1227.8L343.8 1227.8Z" fill="#6baed6" stroke="#fff" stroke-width="3" stroke-linejoin="miter"/>
<path d="M424.2 1170.7L437.7 1197.7L410.7 1197.7Z" fill="#6baed6" stroke="#fff" stroke-width="3" stroke-linejoin="miter"/>
<path d="M522.8 1050.9L536.3 1077.9L509.3 1077.9Z" fill="#6baed6" stroke="#fff" stroke-width="3" stroke-linejoin="miter"/>
<path d="M595.6 1056.3L609.1 1083.3L582.1 1083.3Z" fill="#6baed6" stroke="#fff" stroke-width="3" stroke-linejoin="miter"/>
<path d="M665.9 1054.7L679.4 1081.7L652.4 1081.7Z" fill="#6baed6" stroke="#fff" stroke-width="3" stroke-linejoin="miter"/>
<path d="M739 1049.3L752.5 1076.3L725.5 1076.3Z" fill="#6baed6" stroke="#fff" stroke-width="3" stroke-linejoin="miter"/>
<path d="M809.8 966.5L823.3 993.5L796.3 993.5Z" fill="#6baed6" stroke="#fff" stroke-width="3" stroke-linejoin="miter"/>
<polyline points="320.2,1197.7 356.4,1178.1 417.2,1122.4 533.6,1046.2 604.6,1051.8 674.3,1053.2 742.4,1030.6 810.2,927" fill="none" stroke="#fd8d3c" stroke-width="4.8" stroke-linejoin="round" />
<path d="M313.45 1184.2L320.2 1190.95L326.95 1184.2L333.7 1190.95L326.95 1197.7L333.7 1204.45L326.95 1211.2L320.2 1204.45L313.45 1211.2L306.7 1204.45L313.45 1197.7L306.7 1190.95Z" fill="#fd8d3c" stroke="#fff" stroke-width="3" stroke-linejoin="miter"/>
<path d="M349.65 1164.6L356.4 1171.35L363.15 1164.6L369.9 1171.35L363.15 1178.1L369.9 1184.85L363.15 1191.6L356.4 1184.85L349.65 1191.6L342.9 1184.85L349.65 1178.1L342.9 1171.35Z" fill="#fd8d3c" stroke="#fff" stroke-width="3" stroke-linejoin="miter"/>
<path d="M410.45 1108.9L417.2 1115.65L423.95 1108.9L430.7 1115.65L423.95 1122.4L430.7 1129.15L423.95 1135.9L417.2 1129.15L410.45 1135.9L403.7 1129.15L410.45 1122.4L403.7 1115.65Z" fill="#fd8d3c" stroke="#fff" stroke-width="3" stroke-linejoin="miter"/>
<path d="M526.85 1032.7L533.6 1039.45L540.35 1032.7L547.1 1039.45L540.35 1046.2L547.1 1052.95L540.35 1059.7L533.6 1052.95L526.85 1059.7L520.1 1052.95L526.85 1046.2L520.1 1039.45Z" fill="#fd8d3c" stroke="#fff" stroke-width="3" stroke-linejoin="miter"/>
<path d="M597.85 1038.3L604.6 1045.05L611.35 1038.3L618.1 1045.05L611.35 1051.8L618.1 1058.55L611.35 1065.3L604.6 1058.55L597.85 1065.3L591.1 1058.55L597.85 1051.8L591.1 1045.05Z" fill="#fd8d3c" stroke="#fff" stroke-width="3" stroke-linejoin="miter"/>
<path d="M667.55 1039.7L674.3 1046.45L681.05 1039.7L687.8 1046.45L681.05 1053.2L687.8 1059.95L681.05 1066.7L674.3 1059.95L667.55 1066.7L660.8 1059.95L667.55 1053.2L660.8 1046.45Z" fill="#fd8d3c" stroke="#fff" stroke-width="3" stroke-linejoin="miter"/>
<path d="M735.65 1017.1L742.4 1023.85L749.15 1017.1L755.9 1023.85L749.15 1030.6L755.9 1037.35L749.15 1044.1L742.4 1037.35L735.65 1044.1L728.9 1037.35L735.65 1030.6L728.9 1023.85Z" fill="#fd8d3c" stroke="#fff" stroke-width="3" stroke-linejoin="miter"/>
<path d="M803.45 913.5L810.2 920.25L816.95 913.5L823.7 920.25L816.95 927L823.7 933.75L816.95 940.5L810.2 933.75L803.45 940.5L796.7 933.75L803.45 927L796.7 920.25Z" fill="#fd8d3c" stroke="#fff" stroke-width="3" stroke-linejoin="miter"/>
<polyline points="306.7,1160.7 352.8,1128.4 428.7,1083.9 554.8,1059.7 622.9,1060.2 684.7,1072 746.1,1051.7 811.2,950.5" fill="none" stroke="#74c476" stroke-width="4.8" stroke-linejoin="round" />
<circle cx="306.7" cy="1160.7" r="13.5" fill="#74c476" stroke="#fff" stroke-width="3" stroke-linejoin="miter"/>
<circle cx="352.8" cy="1128.4" r="13.5" fill="#74c476" stroke="#fff" stroke-width="3" stroke-linejoin="miter"/>
<circle cx="428.7" cy="1083.9" r="13.5" fill="#74c476" stroke="#fff" stroke-width="3" stroke-linejoin="miter"/>
<circle cx="554.8" cy="1059.7" r="13.5" fill="#74c476" stroke="#fff" stroke-width="3" stroke-linejoin="miter"/>
<circle cx="622.9" cy="1060.2" r="13.5" fill="#74c476" stroke="#fff" stroke-width="3" stroke-linejoin="miter"/>
<circle cx="684.7" cy="1072" r="13.5" fill="#74c476" stroke="#fff" stroke-width="3" stroke-linejoin="miter"/>
<circle cx="746.1" cy="1051.7" r="13.5" fill="#74c476" stroke="#fff" stroke-width="3" stroke-linejoin="miter"/>
<circle cx="811.2" cy="950.5" r="13.5" fill="#74c476" stroke="#fff" stroke-width="3" stroke-linejoin="miter"/>
<line x1="296.9" y1="1222.4" x2="340.5" y2="1222.4" stroke="#6baed6" stroke-width="4.2" />
<line x1="296.9" y1="1213.4" x2="296.9" y2="1231.4" stroke="#6baed6" stroke-width="4.2" />
<line x1="340.5" y1="1213.4" x2="340.5" y2="1231.4" stroke="#6baed6" stroke-width="4.2" />
<line x1="339.2" y1="1214.3" x2="375.4" y2="1214.3" stroke="#6baed6" stroke-width="4.2" />
<line x1="339.2" y1="1205.3" x2="339.2" y2="1223.3" stroke="#6baed6" stroke-width="4.2" />
<line x1="375.4" y1="1205.3" x2="375.4" y2="1223.3" stroke="#6baed6" stroke-width="4.2" />
<line x1="357.3" y1="1210.3" x2="357.3" y2="1218.3" stroke="#6baed6" stroke-width="4.2" />
<line x1="348.3" y1="1210.3" x2="366.3" y2="1210.3" stroke="#6baed6" stroke-width="4.2" />
<line x1="348.3" y1="1218.3" x2="366.3" y2="1218.3" stroke="#6baed6" stroke-width="4.2" />
<line x1="414.7" y1="1184.2" x2="433.7" y2="1184.2" stroke="#6baed6" stroke-width="4.2" />
<line x1="414.7" y1="1175.2" x2="414.7" y2="1193.2" stroke="#6baed6" stroke-width="4.2" />
<line x1="433.7" y1="1175.2" x2="433.7" y2="1193.2" stroke="#6baed6" stroke-width="4.2" />
<line x1="424.2" y1="1174.7" x2="424.2" y2="1193.7" stroke="#6baed6" stroke-width="4.2" />
<line x1="415.2" y1="1174.7" x2="433.2" y2="1174.7" stroke="#6baed6" stroke-width="4.2" />
<line x1="415.2" y1="1193.7" x2="433.2" y2="1193.7" stroke="#6baed6" stroke-width="4.2" />
<line x1="522.8" y1="1058.4" x2="522.8" y2="1070.4" stroke="#6baed6" stroke-width="4.2" />
<line x1="513.8" y1="1058.4" x2="531.8" y2="1058.4" stroke="#6baed6" stroke-width="4.2" />
<line x1="513.8" y1="1070.4" x2="531.8" y2="1070.4" stroke="#6baed6" stroke-width="4.2" />
<line x1="595.6" y1="1062.8" x2="595.6" y2="1076.8" stroke="#6baed6" stroke-width="4.2" />
<line x1="586.6" y1="1062.8" x2="604.6" y2="1062.8" stroke="#6baed6" stroke-width="4.2" />
<line x1="586.6" y1="1076.8" x2="604.6" y2="1076.8" stroke="#6baed6" stroke-width="4.2" />
<line x1="665.9" y1="1062.2" x2="665.9" y2="1074.2" stroke="#6baed6" stroke-width="4.2" />
<line x1="656.9" y1="1062.2" x2="674.9" y2="1062.2" stroke="#6baed6" stroke-width="4.2" />
<line x1="656.9" y1="1074.2" x2="674.9" y2="1074.2" stroke="#6baed6" stroke-width="4.2" />
<line x1="739" y1="1055.8" x2="739" y2="1069.8" stroke="#6baed6" stroke-width="4.2" />
<line x1="730" y1="1055.8" x2="748" y2="1055.8" stroke="#6baed6" stroke-width="4.2" />
<line x1="730" y1="1069.8" x2="748" y2="1069.8" stroke="#6baed6" stroke-width="4.2" />
<line x1="809.6" y1="904.6" x2="809.6" y2="1098.8" stroke="#6baed6" stroke-width="4.2" />
<line x1="800.6" y1="904.6" x2="818.6" y2="904.6" stroke="#6baed6" stroke-width="4.2" />
<line x1="800.6" y1="1098.8" x2="818.6" y2="1098.8" stroke="#6baed6" stroke-width="4.2" />
<line x1="310.2" y1="1197.7" x2="330.2" y2="1197.7" stroke="#fd8d3c" stroke-width="4.2" />
<line x1="310.2" y1="1188.7" x2="310.2" y2="1206.7" stroke="#fd8d3c" stroke-width="4.2" />
<line x1="330.2" y1="1188.7" x2="330.2" y2="1206.7" stroke="#fd8d3c" stroke-width="4.2" />
<line x1="345.4" y1="1178.1" x2="367.4" y2="1178.1" stroke="#fd8d3c" stroke-width="4.2" />
<line x1="345.4" y1="1169.1" x2="345.4" y2="1187.1" stroke="#fd8d3c" stroke-width="4.2" />
<line x1="367.4" y1="1169.1" x2="367.4" y2="1187.1" stroke="#fd8d3c" stroke-width="4.2" />
<line x1="356.4" y1="1169.1" x2="356.4" y2="1187.1" stroke="#fd8d3c" stroke-width="4.2" />
<line x1="347.4" y1="1169.1" x2="365.4" y2="1169.1" stroke="#fd8d3c" stroke-width="4.2" />
<line x1="347.4" y1="1187.1" x2="365.4" y2="1187.1" stroke="#fd8d3c" stroke-width="4.2" />
<line x1="407.7" y1="1122.4" x2="426.7" y2="1122.4" stroke="#fd8d3c" stroke-width="4.2" />
<line x1="407.7" y1="1113.4" x2="407.7" y2="1131.4" stroke="#fd8d3c" stroke-width="4.2" />
<line x1="426.7" y1="1113.4" x2="426.7" y2="1131.4" stroke="#fd8d3c" stroke-width="4.2" />
<line x1="527.6" y1="1046.2" x2="539.6" y2="1046.2" stroke="#fd8d3c" stroke-width="4.2" />
<line x1="527.6" y1="1037.2" x2="527.6" y2="1055.2" stroke="#fd8d3c" stroke-width="4.2" />
<line x1="539.6" y1="1037.2" x2="539.6" y2="1055.2" stroke="#fd8d3c" stroke-width="4.2" />
<line x1="533.6" y1="1038.2" x2="533.6" y2="1054.2" stroke="#fd8d3c" stroke-width="4.2" />
<line x1="524.6" y1="1038.2" x2="542.6" y2="1038.2" stroke="#fd8d3c" stroke-width="4.2" />
<line x1="524.6" y1="1054.2" x2="542.6" y2="1054.2" stroke="#fd8d3c" stroke-width="4.2" />
<line x1="604.6" y1="1043.8" x2="604.6" y2="1059.8" stroke="#fd8d3c" stroke-width="4.2" />
<line x1="595.6" y1="1043.8" x2="613.6" y2="1043.8" stroke="#fd8d3c" stroke-width="4.2" />
<line x1="595.6" y1="1059.8" x2="613.6" y2="1059.8" stroke="#fd8d3c" stroke-width="4.2" />
<line x1="674.3" y1="1045.2" x2="674.3" y2="1061.2" stroke="#fd8d3c" stroke-width="4.2" />
<line x1="665.3" y1="1045.2" x2="683.3" y2="1045.2" stroke="#fd8d3c" stroke-width="4.2" />
<line x1="665.3" y1="1061.2" x2="683.3" y2="1061.2" stroke="#fd8d3c" stroke-width="4.2" />
<line x1="742.4" y1="1021.6" x2="742.4" y2="1039.6" stroke="#fd8d3c" stroke-width="4.2" />
<line x1="733.4" y1="1021.6" x2="751.4" y2="1021.6" stroke="#fd8d3c" stroke-width="4.2" />
<line x1="733.4" y1="1039.6" x2="751.4" y2="1039.6" stroke="#fd8d3c" stroke-width="4.2" />
<line x1="810" y1="904.6" x2="810" y2="983.3" stroke="#fd8d3c" stroke-width="4.2" />
<line x1="801" y1="904.6" x2="819" y2="904.6" stroke="#fd8d3c" stroke-width="4.2" />
<line x1="801" y1="983.3" x2="819" y2="983.3" stroke="#fd8d3c" stroke-width="4.2" />
<line x1="287.1" y1="1160.7" x2="326.3" y2="1160.7" stroke="#74c476" stroke-width="4.2" />
<line x1="287.1" y1="1151.7" x2="287.1" y2="1169.7" stroke="#74c476" stroke-width="4.2" />
<line x1="326.3" y1="1151.7" x2="326.3" y2="1169.7" stroke="#74c476" stroke-width="4.2" />
<line x1="306.7" y1="1151.7" x2="306.7" y2="1169.7" stroke="#74c476" stroke-width="4.2" />
<line x1="297.7" y1="1151.7" x2="315.7" y2="1151.7" stroke="#74c476" stroke-width="4.2" />
<line x1="297.7" y1="1169.7" x2="315.7" y2="1169.7" stroke="#74c476" stroke-width="4.2" />
<line x1="342.8" y1="1128.4" x2="362.8" y2="1128.4" stroke="#74c476" stroke-width="4.2" />
<line x1="342.8" y1="1119.4" x2="342.8" y2="1137.4" stroke="#74c476" stroke-width="4.2" />
<line x1="362.8" y1="1119.4" x2="362.8" y2="1137.4" stroke="#74c476" stroke-width="4.2" />
<line x1="352.8" y1="1118.4" x2="352.8" y2="1138.4" stroke="#74c476" stroke-width="4.2" />
<line x1="343.8" y1="1118.4" x2="361.8" y2="1118.4" stroke="#74c476" stroke-width="4.2" />
<line x1="343.8" y1="1138.4" x2="361.8" y2="1138.4" stroke="#74c476" stroke-width="4.2" />
<line x1="418.7" y1="1083.9" x2="438.7" y2="1083.9" stroke="#74c476" stroke-width="4.2" />
<line x1="418.7" y1="1074.9" x2="418.7" y2="1092.9" stroke="#74c476" stroke-width="4.2" />
<line x1="438.7" y1="1074.9" x2="438.7" y2="1092.9" stroke="#74c476" stroke-width="4.2" />
<line x1="428.7" y1="1073.9" x2="428.7" y2="1093.9" stroke="#74c476" stroke-width="4.2" />
<line x1="419.7" y1="1073.9" x2="437.7" y2="1073.9" stroke="#74c476" stroke-width="4.2" />
<line x1="419.7" y1="1093.9" x2="437.7" y2="1093.9" stroke="#74c476" stroke-width="4.2" />
<line x1="622.9" y1="1049.2" x2="622.9" y2="1071.2" stroke="#74c476" stroke-width="4.2" />
<line x1="613.9" y1="1049.2" x2="631.9" y2="1049.2" stroke="#74c476" stroke-width="4.2" />
<line x1="613.9" y1="1071.2" x2="631.9" y2="1071.2" stroke="#74c476" stroke-width="4.2" />
<line x1="746.1" y1="1045.7" x2="746.1" y2="1057.7" stroke="#74c476" stroke-width="4.2" />
<line x1="737.1" y1="1045.7" x2="755.1" y2="1045.7" stroke="#74c476" stroke-width="4.2" />
<line x1="737.1" y1="1057.7" x2="755.1" y2="1057.7" stroke="#74c476" stroke-width="4.2" />
<line x1="811.2" y1="935.9" x2="811.2" y2="965.1" stroke="#74c476" stroke-width="4.2" />
<line x1="802.2" y1="935.9" x2="820.2" y2="935.9" stroke="#74c476" stroke-width="4.2" />
<line x1="802.2" y1="965.1" x2="820.2" y2="965.1" stroke="#74c476" stroke-width="4.2" />
</g>
<line x1="354.1" y1="1263.6" x2="354.1" y2="1247.65" stroke="#000" stroke-width="3.5" />
<line x1="504.6" y1="1263.6" x2="504.6" y2="1247.65" stroke="#000" stroke-width="3.5" />
<line x1="655.1" y1="1263.6" x2="655.1" y2="1247.65" stroke="#000" stroke-width="3.5" />
<line x1="805.6" y1="1263.6" x2="805.6" y2="1247.65" stroke="#000" stroke-width="3.5" />
<line x1="956.1" y1="1263.6" x2="956.1" y2="1247.65" stroke="#000" stroke-width="3.5" />
<line x1="203.8" y1="1239.7" x2="219.75" y2="1239.7" stroke="#000" stroke-width="3.5" />
<line x1="203.8" y1="1179.5" x2="219.75" y2="1179.5" stroke="#000" stroke-width="3.5" />
<line x1="203.8" y1="1119.3" x2="219.75" y2="1119.3" stroke="#000" stroke-width="3.5" />
<line x1="203.8" y1="1059.1" x2="219.75" y2="1059.1" stroke="#000" stroke-width="3.5" />
<line x1="203.8" y1="998.9" x2="219.75" y2="998.9" stroke="#000" stroke-width="3.5" />
<line x1="203.8" y1="938.7" x2="219.75" y2="938.7" stroke="#000" stroke-width="3.5" />
<rect x="203.8" y="914.6" width="782.8" height="349" fill="none" stroke="#000" stroke-width="5.3"/>
<text x="175.5" y="1253.7" font-size="41.5" text-anchor="end" class="ls" >0</text>
<text x="175.5" y="1193.5" font-size="41.5" text-anchor="end" class="ls" >25</text>
<text x="175.5" y="1133.3" font-size="41.5" text-anchor="end" class="ls" >50</text>
<text x="175.5" y="1073.1" font-size="41.5" text-anchor="end" class="ls" >75</text>
<text x="175.5" y="1012.9" font-size="41.5" text-anchor="end" class="ls" >100</text>
<text x="175.5" y="952.7" font-size="41.5" text-anchor="end" class="ls" >125</text>
<line x1="354.1" y1="1301.2" x2="354.1" y2="1649.8" stroke="#cbcbcb" stroke-width="3.5" />
<line x1="504.6" y1="1301.2" x2="504.6" y2="1649.8" stroke="#cbcbcb" stroke-width="3.5" />
<line x1="655.1" y1="1301.2" x2="655.1" y2="1649.8" stroke="#cbcbcb" stroke-width="3.5" />
<line x1="805.6" y1="1301.2" x2="805.6" y2="1649.8" stroke="#cbcbcb" stroke-width="3.5" />
<line x1="956.1" y1="1301.2" x2="956.1" y2="1649.8" stroke="#cbcbcb" stroke-width="3.5" />
<line x1="203.8" y1="1620.6" x2="986.6" y2="1620.6" stroke="#cbcbcb" stroke-width="3.5" />
<line x1="203.8" y1="1547.97" x2="986.6" y2="1547.97" stroke="#cbcbcb" stroke-width="3.5" />
<line x1="203.8" y1="1475.35" x2="986.6" y2="1475.35" stroke="#cbcbcb" stroke-width="3.5" />
<line x1="203.8" y1="1402.72" x2="986.6" y2="1402.72" stroke="#cbcbcb" stroke-width="3.5" />
<line x1="203.8" y1="1330.1" x2="986.6" y2="1330.1" stroke="#cbcbcb" stroke-width="3.5" />
<g clip-path="url(#cc)">
<polyline points="318.7,1599.3 357.3,1590.3 424.2,1558.1 522.1,1418.2 594.4,1429.7 667.7,1429.4 738.8,1433 809.5,1401.4" fill="none" stroke="#6baed6" stroke-width="4.8" stroke-linejoin="round" />
<path d="M318.7 1585.8L332.2 1612.8L305.2 1612.8Z" fill="#6baed6" stroke="#fff" stroke-width="3" stroke-linejoin="miter"/>
<path d="M357.3 1576.8L370.8 1603.8L343.8 1603.8Z" fill="#6baed6" stroke="#fff" stroke-width="3" stroke-linejoin="miter"/>
<path d="M424.2 1544.6L437.7 1571.6L410.7 1571.6Z" fill="#6baed6" stroke="#fff" stroke-width="3" stroke-linejoin="miter"/>
<path d="M522.1 1404.7L535.6 1431.7L508.6 1431.7Z" fill="#6baed6" stroke="#fff" stroke-width="3" stroke-linejoin="miter"/>
<path d="M594.4 1416.2L607.9 1443.2L580.9 1443.2Z" fill="#6baed6" stroke="#fff" stroke-width="3" stroke-linejoin="miter"/>
<path d="M667.7 1415.9L681.2 1442.9L654.2 1442.9Z" fill="#6baed6" stroke="#fff" stroke-width="3" stroke-linejoin="miter"/>
<path d="M738.8 1419.5L752.3 1446.5L725.3 1446.5Z" fill="#6baed6" stroke="#fff" stroke-width="3" stroke-linejoin="miter"/>
<path d="M809.5 1387.9L823 1414.9L796 1414.9Z" fill="#6baed6" stroke="#fff" stroke-width="3" stroke-linejoin="miter"/>
<polyline points="320.2,1572.2 356.4,1549.6 417.2,1490.9 533.1,1413.2 604.4,1422.2 673.7,1432.2 742.2,1427.5 810.3,1426.8" fill="none" stroke="#fd8d3c" stroke-width="4.8" stroke-linejoin="round" />
<path d="M313.45 1558.7L320.2 1565.45L326.95 1558.7L333.7 1565.45L326.95 1572.2L333.7 1578.95L326.95 1585.7L320.2 1578.95L313.45 1585.7L306.7 1578.95L313.45 1572.2L306.7 1565.45Z" fill="#fd8d3c" stroke="#fff" stroke-width="3" stroke-linejoin="miter"/>
<path d="M349.65 1536.1L356.4 1542.85L363.15 1536.1L369.9 1542.85L363.15 1549.6L369.9 1556.35L363.15 1563.1L356.4 1556.35L349.65 1563.1L342.9 1556.35L349.65 1549.6L342.9 1542.85Z" fill="#fd8d3c" stroke="#fff" stroke-width="3" stroke-linejoin="miter"/>
<path d="M410.45 1477.4L417.2 1484.15L423.95 1477.4L430.7 1484.15L423.95 1490.9L430.7 1497.65L423.95 1504.4L417.2 1497.65L410.45 1504.4L403.7 1497.65L410.45 1490.9L403.7 1484.15Z" fill="#fd8d3c" stroke="#fff" stroke-width="3" stroke-linejoin="miter"/>
<path d="M526.35 1399.7L533.1 1406.45L539.85 1399.7L546.6 1406.45L539.85 1413.2L546.6 1419.95L539.85 1426.7L533.1 1419.95L526.35 1426.7L519.6 1419.95L526.35 1413.2L519.6 1406.45Z" fill="#fd8d3c" stroke="#fff" stroke-width="3" stroke-linejoin="miter"/>
<path d="M597.65 1408.7L604.4 1415.45L611.15 1408.7L617.9 1415.45L611.15 1422.2L617.9 1428.95L611.15 1435.7L604.4 1428.95L597.65 1435.7L590.9 1428.95L597.65 1422.2L590.9 1415.45Z" fill="#fd8d3c" stroke="#fff" stroke-width="3" stroke-linejoin="miter"/>
<path d="M666.95 1418.7L673.7 1425.45L680.45 1418.7L687.2 1425.45L680.45 1432.2L687.2 1438.95L680.45 1445.7L673.7 1438.95L666.95 1445.7L660.2 1438.95L666.95 1432.2L660.2 1425.45Z" fill="#fd8d3c" stroke="#fff" stroke-width="3" stroke-linejoin="miter"/>
<path d="M735.45 1414L742.2 1420.75L748.95 1414L755.7 1420.75L748.95 1427.5L755.7 1434.25L748.95 1441L742.2 1434.25L735.45 1441L728.7 1434.25L735.45 1427.5L728.7 1420.75Z" fill="#fd8d3c" stroke="#fff" stroke-width="3" stroke-linejoin="miter"/>
<path d="M803.55 1413.3L810.3 1420.05L817.05 1413.3L823.8 1420.05L817.05 1426.8L823.8 1433.55L817.05 1440.3L810.3 1433.55L803.55 1440.3L796.8 1433.55L803.55 1426.8L796.8 1420.05Z" fill="#fd8d3c" stroke="#fff" stroke-width="3" stroke-linejoin="miter"/>
<polyline points="306.7,1530.1 352.8,1493.9 429.3,1443.6 554.6,1421.8 622.9,1425.2 685.1,1449.3 746.2,1449.6 811.5,1442.5" fill="none" stroke="#74c476" stroke-width="4.8" stroke-linejoin="round" />
<circle cx="306.7" cy="1530.1" r="13.5" fill="#74c476" stroke="#fff" stroke-width="3" stroke-linejoin="miter"/>
<circle cx="352.8" cy="1493.9" r="13.5" fill="#74c476" stroke="#fff" stroke-width="3" stroke-linejoin="miter"/>
<circle cx="429.3" cy="1443.6" r="13.5" fill="#74c476" stroke="#fff" stroke-width="3" stroke-linejoin="miter"/>
<circle cx="554.6" cy="1421.8" r="13.5" fill="#74c476" stroke="#fff" stroke-width="3" stroke-linejoin="miter"/>
<circle cx="622.9" cy="1425.2" r="13.5" fill="#74c476" stroke="#fff" stroke-width="3" stroke-linejoin="miter"/>
<circle cx="685.1" cy="1449.3" r="13.5" fill="#74c476" stroke="#fff" stroke-width="3" stroke-linejoin="miter"/>
<circle cx="746.2" cy="1449.6" r="13.5" fill="#74c476" stroke="#fff" stroke-width="3" stroke-linejoin="miter"/>
<circle cx="811.5" cy="1442.5" r="13.5" fill="#74c476" stroke="#fff" stroke-width="3" stroke-linejoin="miter"/>
<line x1="296.9" y1="1599.3" x2="340.5" y2="1599.3" stroke="#6baed6" stroke-width="4.2" />
<line x1="296.9" y1="1590.3" x2="296.9" y2="1608.3" stroke="#6baed6" stroke-width="4.2" />
<line x1="340.5" y1="1590.3" x2="340.5" y2="1608.3" stroke="#6baed6" stroke-width="4.2" />
<line x1="339.2" y1="1590.3" x2="375.4" y2="1590.3" stroke="#6baed6" stroke-width="4.2" />
<line x1="339.2" y1="1581.3" x2="339.2" y2="1599.3" stroke="#6baed6" stroke-width="4.2" />
<line x1="375.4" y1="1581.3" x2="375.4" y2="1599.3" stroke="#6baed6" stroke-width="4.2" />
<line x1="357.3" y1="1586.3" x2="357.3" y2="1594.3" stroke="#6baed6" stroke-width="4.2" />
<line x1="348.3" y1="1586.3" x2="366.3" y2="1586.3" stroke="#6baed6" stroke-width="4.2" />
<line x1="348.3" y1="1594.3" x2="366.3" y2="1594.3" stroke="#6baed6" stroke-width="4.2" />
<line x1="414.7" y1="1558.1" x2="433.7" y2="1558.1" stroke="#6baed6" stroke-width="4.2" />
<line x1="414.7" y1="1549.1" x2="414.7" y2="1567.1" stroke="#6baed6" stroke-width="4.2" />
<line x1="433.7" y1="1549.1" x2="433.7" y2="1567.1" stroke="#6baed6" stroke-width="4.2" />
<line x1="424.2" y1="1548.6" x2="424.2" y2="1567.6" stroke="#6baed6" stroke-width="4.2" />
<line x1="415.2" y1="1548.6" x2="433.2" y2="1548.6" stroke="#6baed6" stroke-width="4.2" />
<line x1="415.2" y1="1567.6" x2="433.2" y2="1567.6" stroke="#6baed6" stroke-width="4.2" />
<line x1="522.1" y1="1407.2" x2="522.1" y2="1429.2" stroke="#6baed6" stroke-width="4.2" />
<line x1="513.1" y1="1407.2" x2="531.1" y2="1407.2" stroke="#6baed6" stroke-width="4.2" />
<line x1="513.1" y1="1429.2" x2="531.1" y2="1429.2" stroke="#6baed6" stroke-width="4.2" />
<line x1="594.4" y1="1415.1" x2="594.4" y2="1444.3" stroke="#6baed6" stroke-width="4.2" />
<line x1="585.4" y1="1415.1" x2="603.4" y2="1415.1" stroke="#6baed6" stroke-width="4.2" />
<line x1="585.4" y1="1444.3" x2="603.4" y2="1444.3" stroke="#6baed6" stroke-width="4.2" />
<line x1="667.7" y1="1416.5" x2="667.7" y2="1442.3" stroke="#6baed6" stroke-width="4.2" />
<line x1="658.7" y1="1416.5" x2="676.7" y2="1416.5" stroke="#6baed6" stroke-width="4.2" />
<line x1="658.7" y1="1442.3" x2="676.7" y2="1442.3" stroke="#6baed6" stroke-width="4.2" />
<line x1="738.8" y1="1413.8" x2="738.8" y2="1452.2" stroke="#6baed6" stroke-width="4.2" />
<line x1="729.8" y1="1413.8" x2="747.8" y2="1413.8" stroke="#6baed6" stroke-width="4.2" />
<line x1="729.8" y1="1452.2" x2="747.8" y2="1452.2" stroke="#6baed6" stroke-width="4.2" />
<line x1="809.5" y1="1333.1" x2="809.5" y2="1465.6" stroke="#6baed6" stroke-width="4.2" />
<line x1="800.5" y1="1333.1" x2="818.5" y2="1333.1" stroke="#6baed6" stroke-width="4.2" />
<line x1="800.5" y1="1465.6" x2="818.5" y2="1465.6" stroke="#6baed6" stroke-width="4.2" />
<line x1="310.2" y1="1572.2" x2="330.2" y2="1572.2" stroke="#fd8d3c" stroke-width="4.2" />
<line x1="310.2" y1="1563.2" x2="310.2" y2="1581.2" stroke="#fd8d3c" stroke-width="4.2" />
<line x1="330.2" y1="1563.2" x2="330.2" y2="1581.2" stroke="#fd8d3c" stroke-width="4.2" />
<line x1="345.4" y1="1549.6" x2="367.4" y2="1549.6" stroke="#fd8d3c" stroke-width="4.2" />
<line x1="345.4" y1="1540.6" x2="345.4" y2="1558.6" stroke="#fd8d3c" stroke-width="4.2" />
<line x1="367.4" y1="1540.6" x2="367.4" y2="1558.6" stroke="#fd8d3c" stroke-width="4.2" />
<line x1="356.4" y1="1540.6" x2="356.4" y2="1558.6" stroke="#fd8d3c" stroke-width="4.2" />
<line x1="347.4" y1="1540.6" x2="365.4" y2="1540.6" stroke="#fd8d3c" stroke-width="4.2" />
<line x1="347.4" y1="1558.6" x2="365.4" y2="1558.6" stroke="#fd8d3c" stroke-width="4.2" />
<line x1="407.7" y1="1490.9" x2="426.7" y2="1490.9" stroke="#fd8d3c" stroke-width="4.2" />
<line x1="407.7" y1="1481.9" x2="407.7" y2="1499.9" stroke="#fd8d3c" stroke-width="4.2" />
<line x1="426.7" y1="1481.9" x2="426.7" y2="1499.9" stroke="#fd8d3c" stroke-width="4.2" />
<line x1="533.1" y1="1404.7" x2="533.1" y2="1421.7" stroke="#fd8d3c" stroke-width="4.2" />
<line x1="524.1" y1="1404.7" x2="542.1" y2="1404.7" stroke="#fd8d3c" stroke-width="4.2" />
<line x1="524.1" y1="1421.7" x2="542.1" y2="1421.7" stroke="#fd8d3c" stroke-width="4.2" />
<line x1="604.4" y1="1411.2" x2="604.4" y2="1433.2" stroke="#fd8d3c" stroke-width="4.2" />
<line x1="595.4" y1="1411.2" x2="613.4" y2="1411.2" stroke="#fd8d3c" stroke-width="4.2" />
<line x1="595.4" y1="1433.2" x2="613.4" y2="1433.2" stroke="#fd8d3c" stroke-width="4.2" />
<line x1="673.7" y1="1423.7" x2="673.7" y2="1440.7" stroke="#fd8d3c" stroke-width="4.2" />
<line x1="664.7" y1="1423.7" x2="682.7" y2="1423.7" stroke="#fd8d3c" stroke-width="4.2" />
<line x1="664.7" y1="1440.7" x2="682.7" y2="1440.7" stroke="#fd8d3c" stroke-width="4.2" />
<line x1="742.2" y1="1417" x2="742.2" y2="1438" stroke="#fd8d3c" stroke-width="4.2" />
<line x1="733.2" y1="1417" x2="751.2" y2="1417" stroke="#fd8d3c" stroke-width="4.2" />
<line x1="733.2" y1="1438" x2="751.2" y2="1438" stroke="#fd8d3c" stroke-width="4.2" />
<line x1="810.3" y1="1413.8" x2="810.3" y2="1439.8" stroke="#fd8d3c" stroke-width="4.2" />
<line x1="801.3" y1="1413.8" x2="819.3" y2="1413.8" stroke="#fd8d3c" stroke-width="4.2" />
<line x1="801.3" y1="1439.8" x2="819.3" y2="1439.8" stroke="#fd8d3c" stroke-width="4.2" />
<line x1="287.1" y1="1530.1" x2="326.3" y2="1530.1" stroke="#74c476" stroke-width="4.2" />
<line x1="287.1" y1="1521.1" x2="287.1" y2="1539.1" stroke="#74c476" stroke-width="4.2" />
<line x1="326.3" y1="1521.1" x2="326.3" y2="1539.1" stroke="#74c476" stroke-width="4.2" />
<line x1="306.7" y1="1521.1" x2="306.7" y2="1539.1" stroke="#74c476" stroke-width="4.2" />
<line x1="297.7" y1="1521.1" x2="315.7" y2="1521.1" stroke="#74c476" stroke-width="4.2" />
<line x1="297.7" y1="1539.1" x2="315.7" y2="1539.1" stroke="#74c476" stroke-width="4.2" />
<line x1="342.8" y1="1493.9" x2="362.8" y2="1493.9" stroke="#74c476" stroke-width="4.2" />
<line x1="342.8" y1="1484.9" x2="342.8" y2="1502.9" stroke="#74c476" stroke-width="4.2" />
<line x1="362.8" y1="1484.9" x2="362.8" y2="1502.9" stroke="#74c476" stroke-width="4.2" />
<line x1="352.8" y1="1483.9" x2="352.8" y2="1503.9" stroke="#74c476" stroke-width="4.2" />
<line x1="343.8" y1="1483.9" x2="361.8" y2="1483.9" stroke="#74c476" stroke-width="4.2" />
<line x1="343.8" y1="1503.9" x2="361.8" y2="1503.9" stroke="#74c476" stroke-width="4.2" />
<line x1="419.3" y1="1443.6" x2="439.3" y2="1443.6" stroke="#74c476" stroke-width="4.2" />
<line x1="419.3" y1="1434.6" x2="419.3" y2="1452.6" stroke="#74c476" stroke-width="4.2" />
<line x1="439.3" y1="1434.6" x2="439.3" y2="1452.6" stroke="#74c476" stroke-width="4.2" />
<line x1="429.3" y1="1434.6" x2="429.3" y2="1452.6" stroke="#74c476" stroke-width="4.2" />
<line x1="420.3" y1="1434.6" x2="438.3" y2="1434.6" stroke="#74c476" stroke-width="4.2" />
<line x1="420.3" y1="1452.6" x2="438.3" y2="1452.6" stroke="#74c476" stroke-width="4.2" />
<line x1="622.9" y1="1406.3" x2="622.9" y2="1444.1" stroke="#74c476" stroke-width="4.2" />
<line x1="613.9" y1="1406.3" x2="631.9" y2="1406.3" stroke="#74c476" stroke-width="4.2" />
<line x1="613.9" y1="1444.1" x2="631.9" y2="1444.1" stroke="#74c476" stroke-width="4.2" />
<line x1="675.1" y1="1449.3" x2="695.1" y2="1449.3" stroke="#74c476" stroke-width="4.2" />
<line x1="675.1" y1="1440.3" x2="675.1" y2="1458.3" stroke="#74c476" stroke-width="4.2" />
<line x1="695.1" y1="1440.3" x2="695.1" y2="1458.3" stroke="#74c476" stroke-width="4.2" />
<line x1="811.5" y1="1391.7" x2="811.5" y2="1494.7" stroke="#74c476" stroke-width="4.2" />
<line x1="802.5" y1="1391.7" x2="820.5" y2="1391.7" stroke="#74c476" stroke-width="4.2" />
<line x1="802.5" y1="1494.7" x2="820.5" y2="1494.7" stroke="#74c476" stroke-width="4.2" />
</g>
<line x1="354.1" y1="1649.8" x2="354.1" y2="1633.85" stroke="#000" stroke-width="3.5" />
<line x1="504.6" y1="1649.8" x2="504.6" y2="1633.85" stroke="#000" stroke-width="3.5" />
<line x1="655.1" y1="1649.8" x2="655.1" y2="1633.85" stroke="#000" stroke-width="3.5" />
<line x1="805.6" y1="1649.8" x2="805.6" y2="1633.85" stroke="#000" stroke-width="3.5" />
<line x1="956.1" y1="1649.8" x2="956.1" y2="1633.85" stroke="#000" stroke-width="3.5" />
<line x1="203.8" y1="1620.6" x2="219.75" y2="1620.6" stroke="#000" stroke-width="3.5" />
<line x1="203.8" y1="1547.97" x2="219.75" y2="1547.97" stroke="#000" stroke-width="3.5" />
<line x1="203.8" y1="1475.35" x2="219.75" y2="1475.35" stroke="#000" stroke-width="3.5" />
<line x1="203.8" y1="1402.72" x2="219.75" y2="1402.72" stroke="#000" stroke-width="3.5" />
<line x1="203.8" y1="1330.1" x2="219.75" y2="1330.1" stroke="#000" stroke-width="3.5" />
<rect x="203.8" y="1301.2" width="782.8" height="348.6" fill="none" stroke="#000" stroke-width="5.3"/>
<text x="175.5" y="1634.6" font-size="41.5" text-anchor="end" class="ls" >0</text>
<text x="175.5" y="1561.97" font-size="41.5" text-anchor="end" class="ls" >25</text>
<text x="175.5" y="1489.35" font-size="41.5" text-anchor="end" class="ls" >50</text>
<text x="175.5" y="1416.72" font-size="41.5" text-anchor="end" class="ls" >75</text>
<text x="175.5" y="1344.1" font-size="41.5" text-anchor="end" class="ls" >100</text>
<text x="203.6" y="1707.5" font-size="41.5" text-anchor="middle" class="ls" >−0.10</text>
<text x="354.1" y="1707.5" font-size="41.5" text-anchor="middle" class="ls" >−0.05</text>
<text x="504.6" y="1707.5" font-size="41.5" text-anchor="middle" class="ls" >0.00</text>
<text x="655.1" y="1707.5" font-size="41.5" text-anchor="middle" class="ls" >0.05</text>
<text x="805.6" y="1707.5" font-size="41.5" text-anchor="middle" class="ls" >0.10</text>
<text x="956.1" y="1707.5" font-size="41.5" text-anchor="middle" class="ls" >0.15</text>
<text x="249.16" y="1770.3" font-size="50.5" class="ls">HFR-free Voltage</text>
<text x="658.84" y="1770.3" font-size="50.8" class="ls dj" font-style="oblique">E</text>
<text x="692.36" y="1778.6" font-size="35" class="ls dj" font-style="oblique">HFR</text>
<text x="769.79" y="1778.6" font-size="35" class="ls dj" font-style="oblique">−</text>
<text x="804.92" y="1778.6" font-size="35" class="ls dj" font-style="oblique">free</text>
<text x="879" y="1770.3" font-size="50.8" class="ls">/</text>
<text x="906.98" y="1770.3" font-size="50.8" class="ls">V</text>
<text transform="translate(54.2,760.08) rotate(-90)" font-size="50.8" class="ls">Current Density</text>
<text transform="translate(54.2,392.27) rotate(-90)" font-size="50.8" class="ls dj" font-style="oblique">j</text>
<text transform="translate(54.2,364.3) rotate(-90)" font-size="50.8" class="ls">/</text>
<text transform="translate(54.2,335.77) rotate(-90)" font-size="50.8" class="ls">mA</text>
<text transform="translate(54.2,245.66) rotate(-90)" font-size="50.8" class="ls">cm</text>
<text transform="translate(34.7,177.31) rotate(-90)" font-size="35" class="ls dj">−</text>
<text transform="translate(34.7,147.56) rotate(-90)" font-size="35" class="ls dj">2</text>
<text transform="translate(78.3,1164.57) rotate(-90)" font-size="50.8" class="ls">FE</text>
<text transform="translate(78.3,1085.9) rotate(-90)" font-size="50.8" class="ls">/</text>
<text transform="translate(78.3,1056.61) rotate(-90)" font-size="50.8" class="ls">%</text>
<text transform="translate(78.3,1637.97) rotate(-90)" font-size="50.8" class="ls">FE</text>
<text transform="translate(87.6,1573.61) rotate(-90)" font-size="35" class="ls dj" font-style="oblique">corrected</text>
<text transform="translate(78.3,1386.3) rotate(-90)" font-size="50.8" class="ls">/</text>
<text transform="translate(78.3,1361.51) rotate(-90)" font-size="50.8" class="ls">%</text>
<text x="242.84" y="87.6" font-size="50.8" class="ls">c</text>
<text x="269.06" y="96.3" font-size="35" class="ls dj" font-style="oblique">acetone</text>
<text x="427" y="87.4" font-size="50.8" class="ls">/</text>
<text x="453.73" y="87.4" font-size="50.8" class="ls">M</text>
<text x="5.64" y="39.2" font-size="50.8" class="ls">a</text>
<text x="38" y="39.2" font-size="50.8" class="ls">)</text>
<text x="4.53" y="929.7" font-size="50.8" class="ls">b</text>
<text x="36.4" y="929.7" font-size="50.8" class="ls">)</text>
<text x="-0.86" y="1308.3" font-size="50.8" class="ls">c</text>
<text x="27.4" y="1308.3" font-size="50.8" class="ls">)</text>
</svg>
</body></html>
